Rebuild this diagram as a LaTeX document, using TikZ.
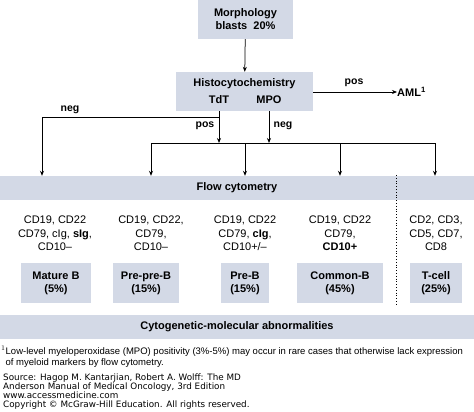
\documentclass[tikz,border=0pt]{standalone}
\usepackage{fontspec}
\setmainfont{Liberation Sans}
\newfontfamily\srcfont{DejaVu Sans}
\usepackage{tikz}
\usetikzlibrary{positioning,arrows.meta,calc}

\definecolor{boxgray}{RGB}{211,217,230}

\tikzset{
  panel/.style={fill=boxgray, inner sep=0pt, font=\bfseries\fontsize{11}{13}\selectfont, align=center},
  band/.style={panel, minimum width=474pt, minimum height=24pt},
  marker/.style={font=\fontsize{11}{13.5}\selectfont, align=center, inner sep=0pt},
  lbl/.style={font=\bfseries\fontsize{10.5}{12}\selectfont, inner sep=0pt},
  arr/.style={-{Stealth[length=5pt,width=4pt]}, line width=0.75pt},
  ln/.style={line width=0.75pt}
}

\begin{document}
\begin{tikzpicture}[x=1pt,y=-1pt]
  \useasboundingbox (0,0) rectangle (474,412);
  % top boxes
  \node[panel, minimum width=95pt, minimum height=39pt] (morph) at (245.5,19.5) {Morphology\\blasts~~20\%};
  \node[panel, minimum width=137pt, minimum height=39pt] (histo) at (244.5,91.5) {};
  \node[lbl, font=\bfseries\fontsize{11}{13}\selectfont] (histotxt) at (244.5,84) {Histocytochemistry};
  \node[lbl, font=\bfseries\fontsize{11}{13}\selectfont] (tdt) at (219,100) {TdT};
  \node[lbl, font=\bfseries\fontsize{11}{13}\selectfont] (mpo) at (269,100) {MPO};
  \node[lbl, font=\bfseries\fontsize{11}{13}\selectfont, anchor=west] (aml) at (397,92) {AML$^{\mathbf{1}}$};
  \draw[arr] (morph) -- (histo);
  \draw[arr] (histo.east |- aml) -- (aml);
  \node[lbl] at (354,83) {pos};

  % bands
  \node[band] (flow) at (237,188) {Flow cytometry};
  \node[band] (cyto) at (237,327) {Cytogenetic-molecular abnormalities};

  % branches
  \coordinate (kneeT) at (219,117);
  \coordinate (kneeL) at (42,117);
  \coordinate (busL) at (151,143);
  \coordinate (busR) at (435,143);
  \draw[arr] (tdt |- histo.south) |- (kneeL) -- (flow.north -| kneeL);
  \node[lbl] at (70,110) {neg};
  \draw[arr] (kneeT) -- (tdt |- busL);
  \node[lbl] at (205,126) {pos};
  \draw[arr] (mpo |- histo.south) -- (mpo |- busL);
  \node[lbl] at (283,126) {neg};
  \draw[ln] (busL) -- (busR);
  \draw[arr] (busL) -- (flow.north -| busL);
  \draw[arr] (245,143) -- (flow.north -| 245,0);
  \draw[arr] (340,143) -- (flow.north -| 340,0);
  \draw[arr] (busR) -- (flow.north -| busR);

  % marker lists
  \node[marker] (mbtxt) at (55,233.5) {CD19, CD22\\CD79, cIg, \textbf{sIg},\\CD10--};
  \node[marker] (ppbtxt) at (151,233.5) {CD19, CD22,\\CD79,\\CD10--};
  \node[marker] (pbtxt) at (245,233.5) {CD19, CD22\\CD79, \textbf{cIg},\\CD10+/--};
  \node[marker] (cbtxt) at (340,233.5) {CD19, CD22\\CD79,\\\textbf{CD10+}};
  \node[marker] (tctxt) at (436,233.5) {CD2, CD3,\\CD5, CD7,\\CD8};

  % subtype boxes
  \node[panel, minimum width=70pt, minimum height=40pt] (matb) at (56,283) {Mature B\\(5\%)};
  \node[panel, minimum width=66pt, minimum height=40pt] (ppreb) at (146,283) {Pre-pre-B\\(15\%)};
  \node[panel, minimum width=48pt, minimum height=40pt] (preb) at (245,283) {Pre-B\\(15\%)};
  \node[panel, minimum width=86pt, minimum height=40pt] (comb) at (340,283) {Common-B\\(45\%)};
  \node[panel, minimum width=52pt, minimum height=40pt] (tcell) at (436,283) {T-cell\\(25\%)};

  % T-cell divider
  \draw[line width=0.8pt, dotted] (396,175) -- (396,305);

  % notes
  \node[anchor=north west, inner sep=0pt, align=left, font=\fontsize{9.5}{11}\selectfont] (fnote) at (1,346)
    {$^{1}$Low-level myeloperoxidase (MPO) positivity (3\%-5\%) may occur in rare cases that otherwise lack expression\\
     \hphantom{$^{1}$}of myeloid markers by flow cytometry.};
  \node[anchor=north west, inner sep=0pt, align=left, font=\srcfont\fontsize{8.8}{9}\selectfont] (src) at (3,374)
    {Source: Hagop M. Kantarjian, Robert A. Wolff: The MD\\
     Anderson Manual of Medical Oncology, 3rd Edition\\
     www.accessmedicine.com\\
     Copyright \textcopyright{} McGraw-Hill Education. All rights reserved.};
\end{tikzpicture}
\end{document}
